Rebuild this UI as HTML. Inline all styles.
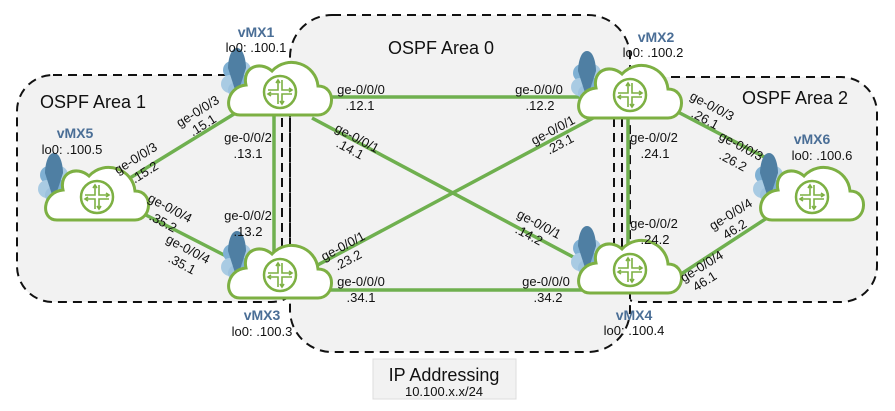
<!DOCTYPE html>
<html><head><meta charset="utf-8"><style>
html,body{margin:0;padding:0;background:#fff;}
svg{display:block;font-family:"Liberation Sans",sans-serif;}
</style></head><body>
<svg width="895" height="411" viewBox="0 0 895 411" xmlns="http://www.w3.org/2000/svg">
<defs>
<g id="deco">
  <circle cx="-48" cy="-22" r="9" fill="#7fb0d3"/>
  <circle cx="-38" cy="-22" r="9" fill="#a9cbe3"/>
  <circle cx="-50" cy="-8" r="9" fill="#a9cbe3"/>
  <circle cx="-37" cy="-8" r="9" fill="#7fb0d3"/>
  <circle cx="-44" cy="-2" r="8" fill="#9cc2de"/>
  <path d="M-43,-44 C-36,-44 -34,-30 -34,-24 L-43,4 L-52,-24 C-52,-30 -50,-44 -43,-44 Z" fill="#4f7fa3"/>
</g>
<g id="cloud">
  <path d="M-40,23 H38 C55,23 57,-6 38,-6 C36,-28 8,-38 -8,-21 C-21,-32 -38,-24 -34,-7 C-55,-5 -57,23 -40,23 Z" fill="#fff" stroke="#7db043" stroke-width="3"/>
  <circle cx="0" cy="0" r="16" fill="none" stroke="#7db043" stroke-width="2.5"/>
  <g stroke="#7db043" stroke-width="1.6" fill="none">
    <path d="M-2,-12 V-2 H-12 M2,-12 V-2 H12 M-2,12 V2 H-12 M2,12 V2 H12"/>
    <path d="M-4,-9 L-2,-12 L0,-9 M9,-4 L12,-2 L9,0 M0,9 L2,12 L4,9 M-9,0 L-12,2 L-9,4"/>
  </g>
</g>
</defs>

<rect x="17" y="75" width="290" height="227" rx="36" fill="#f2f2f2" stroke="#111" stroke-width="2" stroke-dasharray="9,6"/>
<rect x="605" y="77" width="272" height="225" rx="36" fill="#f2f2f2" stroke="#111" stroke-width="2" stroke-dasharray="9,6"/>
<rect x="290" y="15" width="340" height="337" rx="42" fill="#f2f2f2" stroke="#111" stroke-width="2" stroke-dasharray="9,6"/>
<line x1="282" y1="118" x2="282" y2="252" stroke="#111" stroke-width="2" stroke-dasharray="9,6"/>
<line x1="290" y1="118" x2="290" y2="252" stroke="#111" stroke-width="2" stroke-dasharray="9,6"/>
<line x1="614" y1="118" x2="614" y2="252" stroke="#111" stroke-width="2" stroke-dasharray="9,6"/>
<line x1="622" y1="118" x2="622" y2="252" stroke="#111" stroke-width="2" stroke-dasharray="9,6"/>

<text x="40" y="108" font-size="18" fill="#111">OSPF Area 1</text>
<text x="388" y="54" font-size="18" fill="#111">OSPF Area 0</text>
<text x="742" y="104" font-size="18" fill="#111">OSPF Area 2</text>

<g stroke="#6fb04f" stroke-width="3.5">
<line x1="320" y1="97" x2="590" y2="97"/>
<line x1="320" y1="290" x2="590" y2="290"/>
<line x1="312" y1="118" x2="575" y2="258"/>
<line x1="312" y1="268" x2="595" y2="117"/>
<line x1="274" y1="115" x2="274" y2="255"/>
<line x1="628" y1="115" x2="628" y2="252"/>
<line x1="125" y1="181" x2="234" y2="114"/>
<line x1="140" y1="212" x2="226" y2="256"/>
<line x1="676" y1="111" x2="770" y2="160"/>
<line x1="675" y1="278" x2="770" y2="216"/>
</g>

<use href="#deco" x="280" y="92"/><use href="#cloud" x="280" y="92"/>
<use href="#deco" x="630" y="95"/><use href="#cloud" x="630" y="95"/>
<use href="#deco" x="280" y="275"/><use href="#cloud" x="280" y="275"/>
<use href="#deco" x="630" y="270"/><use href="#cloud" x="630" y="270"/>
<use href="#deco" x="97" y="197"/><use href="#cloud" x="97" y="197"/>
<use href="#deco" x="812" y="197"/><use href="#cloud" x="812" y="197"/>

<g font-size="13" fill="#111" text-anchor="middle">
<g font-size="14" font-weight="bold" fill="#4a6e96">
<text x="256" y="37">vMX1</text>
<text x="656" y="42">vMX2</text>
<text x="262" y="320">vMX3</text>
<text x="634" y="320">vMX4</text>
<text x="75" y="138">vMX5</text>
<text x="812" y="144">vMX6</text>
</g>
<text x="256" y="52">lo0: .100.1</text>
<text x="653" y="57">lo0: .100.2</text>
<text x="262" y="336">lo0: .100.3</text>
<text x="634" y="335">lo0: .100.4</text>
<text x="72" y="154">lo0: .100.5</text>
<text x="822" y="160">lo0: .100.6</text>

<text x="361" y="94">ge-0/0/0</text><text x="360" y="110">.12.1</text>
<text x="539" y="94">ge-0/0/0</text><text x="540" y="110">.12.2</text>
<text x="361" y="286">ge-0/0/0</text><text x="361" y="302">.34.1</text>
<text x="546" y="286">ge-0/0/0</text><text x="548" y="302">.34.2</text>
<text x="248" y="142">ge-0/0/2</text><text x="248" y="158">.13.1</text>
<text x="248" y="220">ge-0/0/2</text><text x="248" y="236">.13.2</text>
<text x="654" y="142">ge-0/0/2</text><text x="655" y="158">.24.1</text>
<text x="654" y="228">ge-0/0/2</text><text x="655" y="244">.24.2</text>
<text transform="translate(355,142) rotate(28)">ge-0/0/1</text><text transform="translate(348,153) rotate(28)">.14.1</text>
<text transform="translate(537,228) rotate(28)">ge-0/0/1</text><text transform="translate(527,239) rotate(28)">.14.2</text>
<text transform="translate(555,134) rotate(-28)">ge-0/0/1</text><text transform="translate(562,148) rotate(-28)">.23.1</text>
<text transform="translate(345,250) rotate(-28)">ge-0/0/1</text><text transform="translate(350,264) rotate(-28)">.23.2</text>
<text transform="translate(138,162) rotate(-32)">ge-0/0/3</text><text transform="translate(147,176) rotate(-32)">.15.2</text>
<text transform="translate(200,115) rotate(-32)">ge-0/0/3</text><text transform="translate(205,129) rotate(-32)">.15.1</text>
<text transform="translate(168,212) rotate(28)">ge-0/0/4</text><text transform="translate(161,226) rotate(28)">.35.2</text>
<text transform="translate(186,253) rotate(28)">ge-0/0/4</text><text transform="translate(180,268) rotate(28)">.35.1</text>
<text transform="translate(710,110) rotate(28)">ge-0/0/3</text><text transform="translate(703,123) rotate(28)">.26.1</text>
<text transform="translate(739,150) rotate(28)">ge-0/0/3</text><text transform="translate(731,165) rotate(28)">.26.2</text>
<text transform="translate(733,218) rotate(-32)">ge-0/0/4</text><text transform="translate(737,233) rotate(-32)">46.2</text>
<text transform="translate(704,270) rotate(-32)">ge-0/0/4</text><text transform="translate(707,285) rotate(-32)">46.1</text>
</g>

<rect x="373" y="359" width="143" height="40" fill="#f2f2f2" stroke="#ddd" stroke-width="1"/>
<text x="444" y="381" font-size="18" text-anchor="middle" fill="#111">IP Addressing</text>
<text x="444" y="396" font-size="13" text-anchor="middle" fill="#111">10.100.x.x/24</text>
</svg>
</body></html>
